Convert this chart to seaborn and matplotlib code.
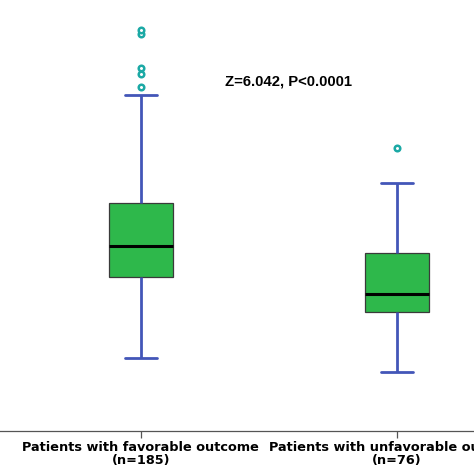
import numpy as np
import pandas as pd
import seaborn as sns
import matplotlib
matplotlib.use("Agg")
import matplotlib.pyplot as plt

# Values (arbitrary units, no y scale shown)
GROUPS = ["Patients with favorable outcome\n(n=185)",
          "Patients with unfavorable outcome\n(n=76)"]
Q1 = [15.4, 11.9]
MEDIAN = [18.5, 13.7]
Q3 = [22.8, 17.8]
WHISKER_LO = [7.3, 5.9]
WHISKER_HI = [33.6, 24.8]
OUTLIERS = [[34.45, 35.75, 36.35, 39.7, 40.15], [28.3]]

GREEN = "#2EB84B"
BLUE = "#4356B8"
TEAL = "#1BA9A5"


def build_sample(lo, q1, med, q3, hi, out):
    # symmetric sample whose quartiles / whiskers / fliers match the read values
    m = len(out)
    a = 4 * (m + 1)
    vals = [lo] * (m + 1) + [q1] * a + [med] + [q3] * a + [hi] + list(out)
    return vals


rows = []
for i, g in enumerate(GROUPS):
    for v in build_sample(WHISKER_LO[i], Q1[i], MEDIAN[i], Q3[i], WHISKER_HI[i], OUTLIERS[i]):
        rows.append({"group": g, "value": v})
df = pd.DataFrame(rows)

sns.set_style("white")
fig = plt.figure(figsize=(4.74, 4.74), dpi=100)
ax = fig.add_axes([0, 0.0907, 1, 0.9093])

sns.boxplot(
    data=df, x="group", y="value", ax=ax,
    width=0.25, whis=1.5,
    color=GREEN,
    boxprops={"facecolor": GREEN, "edgecolor": "#3a3a3a", "linewidth": 0.9},
    medianprops={"color": "black", "linewidth": 2.2},
    whiskerprops={"color": BLUE, "linewidth": 2.0},
    capprops={"color": BLUE, "linewidth": 2.0},
    flierprops={"marker": "o", "markerfacecolor": "white",
                "markeredgecolor": TEAL, "markersize": 4.0,
                "markeredgewidth": 1.8},
)

ax.set_xlim(-0.55, 1.30)
ax.set_ylim(0, 43.1)
for s in ["top", "left", "right"]:
    ax.spines[s].set_visible(False)
ax.spines["bottom"].set_color("#555555")
ax.spines["bottom"].set_linewidth(0.9)
ax.set_yticks([])
ax.set_xlabel("")
ax.set_ylabel("")
ax.tick_params(axis="x", bottom=True, length=5, width=0.9, color="#555555", pad=2)
for lab in ax.get_xticklabels():
    lab.set_fontweight("bold")
    lab.set_fontsize(9.3)
    lab.set_color("black")
    lab.set_linespacing(1.05)

ax.text(0.328, 35.0, "Z=6.042, P<0.0001", fontsize=10.7, fontweight="bold",
        family="Liberation Sans", color="black", ha="left", va="center")

fig.savefig("out.png", dpi=100)
